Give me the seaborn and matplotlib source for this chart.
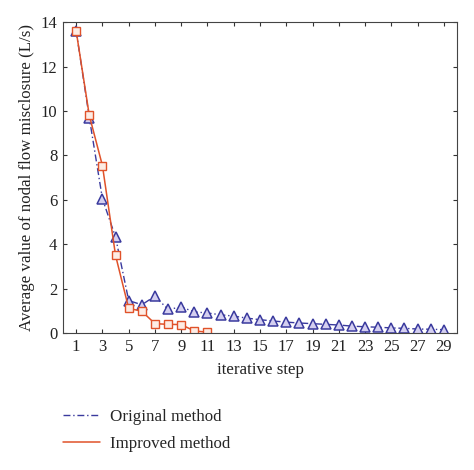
import numpy as np
import pandas as pd
import matplotlib
matplotlib.use("Agg")
import matplotlib.pyplot as plt
import seaborn as sns
from matplotlib.lines import Line2D

orig_steps = list(range(1, 30))
orig_vals = [13.6, 9.7, 6.05, 4.32, 1.47, 1.28, 1.67, 1.07, 1.18, 0.96, 0.91, 0.83, 0.77,
             0.68, 0.61, 0.55, 0.5, 0.46, 0.43, 0.4, 0.37, 0.32, 0.29, 0.27, 0.24, 0.22,
             0.19, 0.18, 0.16]
impr_steps = list(range(1, 12))
impr_vals = [13.6, 9.8, 7.54, 3.5, 1.12, 0.99, 0.43, 0.4, 0.39, 0.1, 0.05]
xticks = list(range(1, 30, 2))
yticks = list(range(0, 15, 2))
labels = ["Original method", "Improved method"]

sns.set_style("ticks")
plt.rcParams['font.family'] = ['Liberation Serif', 'DejaVu Serif']
plt.rcParams['xtick.direction'] = 'in'
plt.rcParams['ytick.direction'] = 'in'

fig = plt.figure(figsize=(4.74, 4.70), dpi=100)
ax = fig.add_axes([0.133, 0.291, 0.831, 0.662])

df_o = pd.DataFrame({"step": orig_steps, "val": orig_vals})
df_i = pd.DataFrame({"step": impr_steps, "val": impr_vals})

blue = "#3a3a9e"
red = "#e0522a"
dashdot = (0, (5, 2, 1, 2))

sns.lineplot(data=df_o, x="step", y="val", ax=ax, color=blue, linestyle=dashdot,
             linewidth=1.0, marker="^", markersize=7.5, markerfacecolor="#d4cff0",
             markeredgecolor=blue, markeredgewidth=1.1, legend=False)
sns.lineplot(data=df_i, x="step", y="val", ax=ax, color=red, linestyle="-",
             linewidth=1.1, marker="s", markersize=5.5, markerfacecolor="#fdece4",
             markeredgecolor=red, markeredgewidth=1.0, legend=False)

ax.set_xlim(0, 30)
ax.set_ylim(0, 14)
ax.set_xticks(xticks)
ax.set_yticks(yticks)
ax.tick_params(labelsize=12, length=3, width=0.8, top=True, right=True,
               labeltop=False, labelright=False, colors="#333333", labelcolor="#222222", pad=4)
for s in ax.spines.values():
    s.set_visible(True)
    s.set_color("#444444")
    s.set_linewidth(0.8)
ax.set_xlabel("iterative step", fontsize=12.2, color="#222222", labelpad=5)
ax.set_ylabel("Average value of nodal flow misclosure (L/s)", fontsize=12.2, color="#222222")

h2 = [Line2D([], [], color=blue, linestyle=dashdot, linewidth=1.0),
      Line2D([], [], color=red, linestyle="-", linewidth=1.1)]
fig.legend(h2, labels, loc="upper left", bbox_to_anchor=(0.133, 0.13),
           frameon=False, fontsize=12.2, handlelength=2.2, handletextpad=0.6,
           labelspacing=0.65, borderaxespad=0, borderpad=0)

fig.savefig("out.png", dpi=100)
